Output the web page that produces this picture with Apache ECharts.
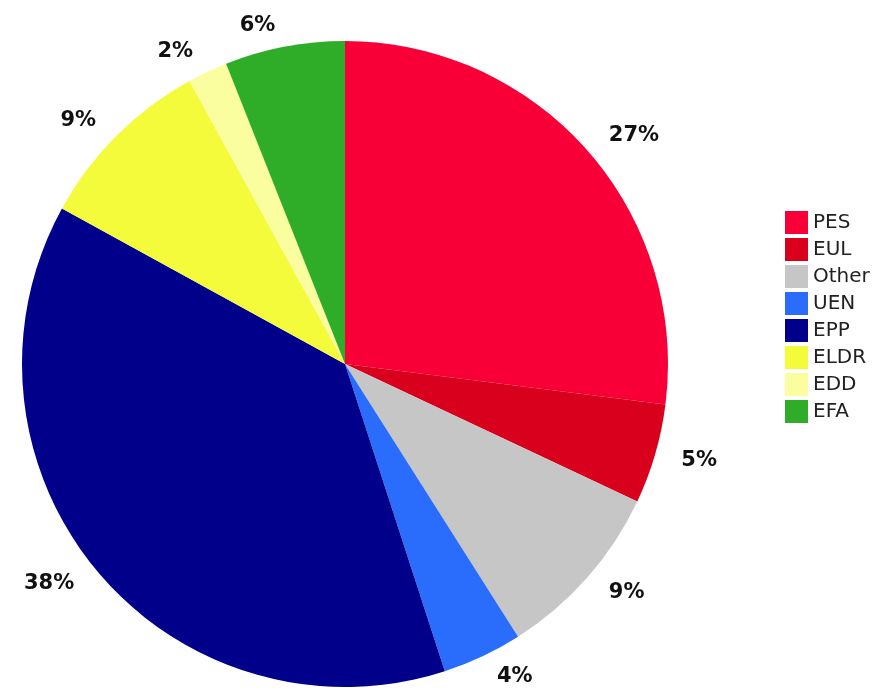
<!DOCTYPE html>
<html><head><meta charset="utf-8">
<script src="https://cdn.jsdelivr.net/npm/echarts@6/dist/echarts.min.js"></script>
<style>html,body{margin:0;background:#fff}#c{width:891px;height:697px}</style>
</head><body><div id="c"></div>
<script>
const parties = ['PES', 'EUL', 'Other', 'UEN', 'EPP', 'ELDR', 'EDD', 'EFA'];
const shares = [27, 5, 9, 4, 38, 9, 2, 6];
const colors = ['#f80037', '#d8001d', '#c6c6c6', '#2a6cfb', '#00008a', '#f3fb3a', '#fbfe9e', '#2fac28'];

let chart = echarts.init(document.getElementById('c'));
chart.setOption({
    animation: false,
    color: colors,
    legend: {
        orient: 'vertical', left: 780, top: 206,
        itemWidth: 23, itemHeight: 23, itemGap: 4, icon: 'rect',
        textStyle: { fontFamily: 'DejaVu Sans', fontSize: 20, color: '#222' },
        data: parties
    },
    series: [{
        type: 'pie',
        center: [345, 364], radius: 323,
        startAngle: 90, clockwise: true,
        data: parties.map((n, i) => ({ name: n, value: shares[i] })),
        label: {
            position: 'outside', formatter: '{c}%',
            fontFamily: 'DejaVu Sans', fontSize: 21, fontWeight: 'bold', color: '#111'
        },
        labelLine: { show: false, length: 22, length2: 0 },
        itemStyle: { borderWidth: 0 },
        emphasis: { disabled: true }
    }]
});
</script></body></html>
